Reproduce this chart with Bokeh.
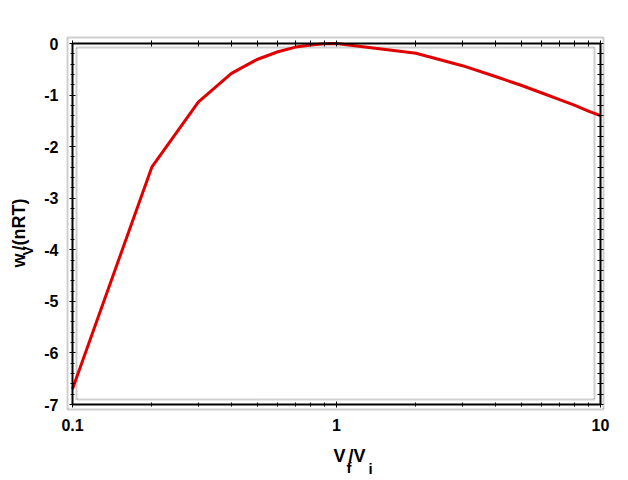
import math
from bokeh.plotting import figure
from bokeh.models import (LinearAxis, LogAxis, LogScale, FixedTicker,
                          CustomJSTickFormatter, Label, Range1d)
from bokeh.embed import file_html
from bokeh.resources import INLINE

# ---- data ----
vol_ratio = [0.1, 0.2, 0.3, 0.4, 0.5, 0.6, 0.7, 0.8, 0.9, 1,
             2, 3, 4, 5, 6, 7, 8, 9, 10]
work = [-6.70, -2.39, -1.13, -0.58, -0.31, -0.16, -0.07, -0.03, -0.006, 0.0,
        -0.19, -0.43, -0.64, -0.81, -0.96, -1.09, -1.20, -1.31, -1.40]

x_lo, x_hi = 0.1, 10
y_lo, y_hi = -7, 0
x_major_ticks = [0.1, 1, 10]
x_minor_ticks = [0.2, 0.3, 0.4, 0.5, 0.6, 0.7, 0.8, 0.9,
                 2, 3, 4, 5, 6, 7, 8, 9]
y_major_ticks = [0, -1, -2, -3, -4, -5, -6, -7]
y_minor_ticks = [t / 5 for t in range(-35, 1)]

FONT = "Liberation Sans"
W, H = 620, 480
# plot box (axes) inside the canvas, in pixels
BOX_L, BOX_R, BOX_T, BOX_B = 72, 600, 43, 404
dec_px = (BOX_R - BOX_L) / (math.log10(x_hi) - math.log10(x_lo))
unit_px = (BOX_B - BOX_T) / (y_hi - y_lo)

def xpix(v, dpx):   # data x shifted by dpx pixels
    return v * 10 ** (dpx / dec_px)

def ypix(v, dpx):   # data y shifted by dpx pixels (up positive)
    return v + dpx / unit_px

p = figure(width=W, height=H, x_axis_type=None, y_axis_type=None,
           x_range=Range1d(xpix(x_lo, -BOX_L), xpix(x_hi, W - BOX_R)),
           y_range=Range1d(ypix(y_lo, -(H - BOX_B)), ypix(y_hi, BOX_T)),
           output_backend="svg", toolbar_location=None,
           min_border=0, min_border_left=0, min_border_right=0,
           min_border_top=0, min_border_bottom=0)
p.x_scale = LogScale()
p.grid.visible = False
p.outline_line_color = None
p.background_fill_color = "white"
p.border_fill_color = "white"

fmt = CustomJSTickFormatter(code="return String(tick);")

def style(ax):
    ax.axis_line_color = "black"
    ax.axis_line_width = 2
    ax.major_tick_line_color = "black"
    ax.minor_tick_line_color = "black"
    ax.major_tick_in = 3
    ax.major_tick_out = 3
    ax.minor_tick_in = 2
    ax.minor_tick_out = 2
    ax.major_tick_line_width = 1
    ax.minor_tick_line_width = 1
    ax.major_label_text_font = FONT
    ax.major_label_text_font_style = "bold"
    ax.major_label_text_font_size = "16px"
    ax.major_label_text_color = "black"

bx = LogAxis(ticker=FixedTicker(ticks=x_major_ticks, minor_ticks=x_minor_ticks),
             formatter=fmt, major_label_standoff=11,
             fixed_location=y_lo, bounds=(x_lo, x_hi))
tx = LogAxis(ticker=FixedTicker(ticks=[], minor_ticks=x_major_ticks + x_minor_ticks),
             fixed_location=y_hi, bounds=(x_lo, x_hi))
ly = LinearAxis(ticker=FixedTicker(ticks=y_major_ticks, minor_ticks=y_minor_ticks),
                formatter=fmt, major_label_standoff=11,
                fixed_location=x_lo, bounds=(y_lo, y_hi))
ry = LinearAxis(ticker=FixedTicker(ticks=[], minor_ticks=y_minor_ticks),
                fixed_location=x_hi, bounds=(y_lo, y_hi))
for ax in (bx, tx, ly, ry):
    style(ax)
for ax in (tx, ry):
    ax.minor_tick_in = 3
    ax.minor_tick_out = 3
p.add_layout(bx, "below")
p.add_layout(tx, "above")
p.add_layout(ly, "left")
p.add_layout(ry, "right")

# dotted double frame around the axes
for off_l, off_r, off_t, off_b in [(-5, 3, 6, -5), (4, -6, -4, 5)]:
    p.quad(left=[xpix(x_lo, off_l)], right=[xpix(x_hi, off_r)],
           top=[ypix(y_hi, off_t)], bottom=[ypix(y_lo, off_b)],
           fill_color=None, line_color="#a0a0a0", line_dash="1 1",
           line_width=2)

p.line(vol_ratio, work, line_color="#e00000", line_width=3)

# axis titles with sub-scripts (screen units, origin bottom-left of canvas)
def lab(txt, x, y, size, angle=0):
    p.add_layout(Label(text=txt, x=x, y=H - y, x_units="screen", y_units="screen",
                       angle=angle, text_font=FONT, text_font_style="bold",
                       text_font_size=size, text_color="black",
                       text_align="left", text_baseline="alphabetic"))

lab("V", 333, 455, "18px")
lab("f", 346, 467, "15px")
lab("/V", 348, 455, "18px")
lab("i", 368, 468, "15px")

a = math.pi / 2
lab("w", 18, 267, "18px", a)
lab("V", 27, 255, "14px", a)
lab("/(nRT)", 18, 250, "18px", a)

open("out.html", "w").write(file_html(p, INLINE))
